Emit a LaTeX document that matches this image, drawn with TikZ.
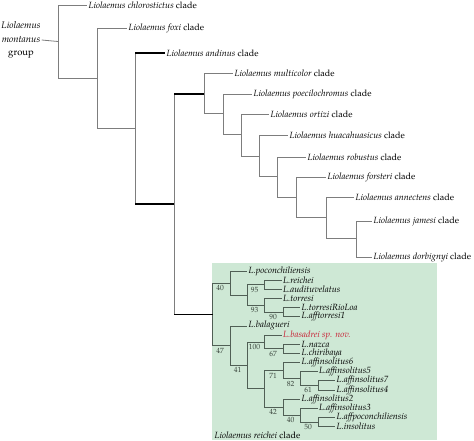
\documentclass[tikz,border=0pt]{standalone}
\usepackage{fontspec}
\setmainfont{TeX Gyre Pagella}
\definecolor{topline}{RGB}{125,125,125}
\definecolor{inline}{RGB}{80,95,85}
\definecolor{boxfill}{RGB}{206,232,213}
\definecolor{redlab}{RGB}{200,30,50}
\tikzset{
  tb/.style={topline, line width=0.8pt},
  ib/.style={inline, line width=0.8pt},
  thk/.style={black, line width=1.5pt},
  leaf/.style={anchor=west, inner sep=1.5pt, font=\fontsize{9}{10}\selectfont\itshape},
  clade/.style={anchor=west, inner sep=1.5pt, font=\fontsize{9}{10}\selectfont},
  bslab/.style={inner sep=0pt, font=\fontsize{7.5}{8}\selectfont, inline!70!black},
}
\begin{document}
\begin{tikzpicture}[x=1pt,y=-1pt]
\useasboundingbox (0,0) rectangle (474,440);
\fill[boxfill] (212,263) rectangle (437,440);

% ---------- top tree ----------
\node[align=center, inner sep=1pt, font=\fontsize{9.5}{13.5}\selectfont] (grp) at (21,40) {\textit{Liolaemus}\\\textit{montanus}\\group};
\coordinate (r0) at (58,41.5);
\coordinate (n2) at (97,78);
\coordinate (n3) at (135,128);
\coordinate (n4) at (174,204);
\coordinate (n5) at (204,94);
\coordinate (n6) at (223,113);
\coordinate (n7) at (241,134);
\coordinate (n8) at (259,156);
\coordinate (n9) at (277,176);
\coordinate (n10) at (296,197);
\coordinate (n11) at (326,217);
\coordinate (n12) at (356,238);

\node[clade] (chl) at (87,5) {\textit{Liolaemus chlorostictus} clade};
\node[clade] (fox) at (127,28) {\textit{Liolaemus foxi} clade};
\node[clade] (and) at (165,53) {\textit{Liolaemus andinus} clade};
\node[clade] (mul) at (233,73) {\textit{Liolaemus multicolor} clade};
\node[clade] (poe) at (252,94) {\textit{Liolaemus poecilochromus} clade};
\node[clade] (ort) at (269,114) {\textit{Liolaemus ortizi} clade};
\node[clade] (hua) at (288,135) {\textit{Liolaemus huacahuasicus} clade};
\node[clade] (rob) at (306,157) {\textit{Liolaemus robustus} clade};
\node[clade] (for) at (326,177) {\textit{Liolaemus forsteri} clade};
\node[clade] (ann) at (354,197) {\textit{Liolaemus annectens} clade};
\node[clade] (jam) at (372,221) {\textit{Liolaemus jamesi} clade};
\node[clade] (dor) at (372,257) {\textit{Liolaemus dorbignyi} clade};

\draw[tb] (grp.east) -- (r0);
\draw[tb] (r0) |- (chl.west);
\draw[tb] (r0) |- (n2);
\draw[tb] (n2) |- (fox.west);
\draw[tb] (n2) |- (n3);
\draw[tb] (n3) |- (and.west);
\draw[tb] (n3) |- (n4);
\draw[tb] (n4) |- (n5);
\draw[tb] (n5) |- (mul.west);
\draw[tb] (n5) |- (n6);
\draw[tb] (n6) |- (poe.west);
\draw[tb] (n6) |- (n7);
\draw[tb] (n7) |- (ort.west);
\draw[tb] (n7) |- (n8);
\draw[tb] (n8) |- (hua.west);
\draw[tb] (n8) |- (n9);
\draw[tb] (n9) |- (rob.west);
\draw[tb] (n9) |- (n10);
\draw[tb] (n10) |- (for.west);
\draw[tb] (n10) |- (n11);
\draw[tb] (n11) |- (ann.west);
\draw[tb] (n11) |- (n12);
\draw[tb] (n12) |- (jam.west);
\draw[tb] (n12) |- (dor.west);

% ---------- inner tree ----------
\coordinate (R) at (212.5,314.3);
\coordinate (A) at (230,283);
\coordinate (E) at (230,345.7);
\coordinate (BC) at (247.5,295);
\coordinate (FG) at (247.5,365.4);
\coordinate (B) at (264.5,284.7);
\coordinate (C) at (264.5,305.3);
\coordinate (F) at (264.5,342);
\coordinate (G) at (264.5,388.8);
\coordinate (D) at (283,312.2);
\coordinate (H) at (283,348.8);
\coordinate (I) at (283,370.5);
\coordinate (J) at (283,407.1);
\coordinate (K) at (300.5,378.5);
\coordinate (M) at (300.5,415.1);
\coordinate (L) at (318,385.4);
\coordinate (N) at (318,422);

\draw[tb] (n4) |- (R);

\node[leaf] (l0) at (247,271) {L.poconchiliensis};
\node[leaf] (l1) at (281.5,280.2) {L.reichei};
\node[leaf] (l2) at (281.5,289.3) {L.audituvelatus};
\node[leaf] (l3) at (281.5,298.5) {L.torresi};
\node[leaf] (l4) at (300,307.6) {L.torresiRioLoa};
\node[leaf] (l5) at (300,316.8) {L.afftorresi1};
\node[leaf] (l6) at (247,325.9) {L.balagueri};
\node[leaf, text=redlab] (l7) at (281.5,335.1) {L.basadrei sp. nov.};
\node[leaf] (l8) at (300,344.2) {L.nazca};
\node[leaf] (l9) at (300,353.4) {L.chiribaya};
\node[leaf] (l10) at (300,362.5) {L.affinsolitus6};
\node[leaf] (l11) at (317.5,371.7) {L.affinsolitus5};
\node[leaf] (l12) at (335,380.8) {L.affinsolitus7};
\node[leaf] (l13) at (335,390) {L.affinsolitus4};
\node[leaf] (l14) at (300,399.1) {L.affinsolitus2};
\node[leaf] (l15) at (317.5,408.3) {L.affinsolitus3};
\node[leaf] (l16) at (335,417.4) {L.affpoconchiliensis};
\node[leaf] (l17) at (335,426.6) {L.insolitus};
\node[clade] (rcl) at (213,435) {\textit{Liolaemus reichei} clade};

\draw[ib] (R) |- (A);
\draw[ib] (R) |- (E);
\draw[ib] (A) |- (l0.west);
\draw[ib] (A) |- (BC);
\draw[ib] (BC) |- (B);
\draw[ib] (BC) |- (C);
\draw[ib] (B) |- (l1.west);
\draw[ib] (B) |- (l2.west);
\draw[ib] (C) |- (l3.west);
\draw[ib] (C) |- (D);
\draw[ib] (D) |- (l4.west);
\draw[ib] (D) |- (l5.west);
\draw[ib] (E) |- (l6.west);
\draw[ib] (E) |- (FG);
\draw[ib] (FG) |- (F);
\draw[ib] (FG) |- (G);
\draw[ib] (F) |- (l7.west);
\draw[ib] (F) |- (H);
\draw[ib] (H) |- (l8.west);
\draw[ib] (H) |- (l9.west);
\draw[ib] (G) |- (I);
\draw[ib] (G) |- (J);
\draw[ib] (I) |- (l10.west);
\draw[ib] (I) |- (K);
\draw[ib] (K) |- (l11.west);
\draw[ib] (K) |- (L);
\draw[ib] (L) |- (l12.west);
\draw[ib] (L) |- (l13.west);
\draw[ib] (J) |- (l14.west);
\draw[ib] (J) |- (M);
\draw[ib] (M) |- (l15.west);
\draw[ib] (M) |- (N);
\draw[ib] (N) |- (l16.west);
\draw[ib] (N) |- (l17.west);

% support values
\node[bslab] (sA) at ([shift={(-10,5)}]A) {40};
\node[bslab] (sB) at ([shift={(-10,5)}]B) {95};
\node[bslab] (sC) at ([shift={(-10,5)}]C) {93};
\node[bslab] (sD) at ([shift={(-10,5)}]D) {90};
\node[bslab] (sE) at ([shift={(-10,5)}]E) {47};
\node[bslab] (sFG) at ([shift={(-10,5)}]FG) {41};
\node[bslab] (sF) at ([shift={(-10,5)}]F) {100};
\node[bslab] (sH) at ([shift={(-10,5)}]H) {67};
\node[bslab] (sI) at ([shift={(-10,5)}]I) {71};
\node[bslab] (sK) at ([shift={(-10,5)}]K) {82};
\node[bslab] (sL) at ([shift={(-10,5)}]L) {61};
\node[bslab] (sJ) at ([shift={(-10,5)}]J) {42};
\node[bslab] (sM) at ([shift={(-10,5)}]M) {40};
\node[bslab] (sN) at ([shift={(-10,5)}]N) {50};

% thick branches
\draw[thk] (and.west -| n3) -- (and.west);
\draw[thk] (n4 -| n3) -- (n4);
\draw[thk] (n5 -| n4) -- (n5);
\draw[thk] (R -| n4) -- (R);
\end{tikzpicture}
\end{document}
